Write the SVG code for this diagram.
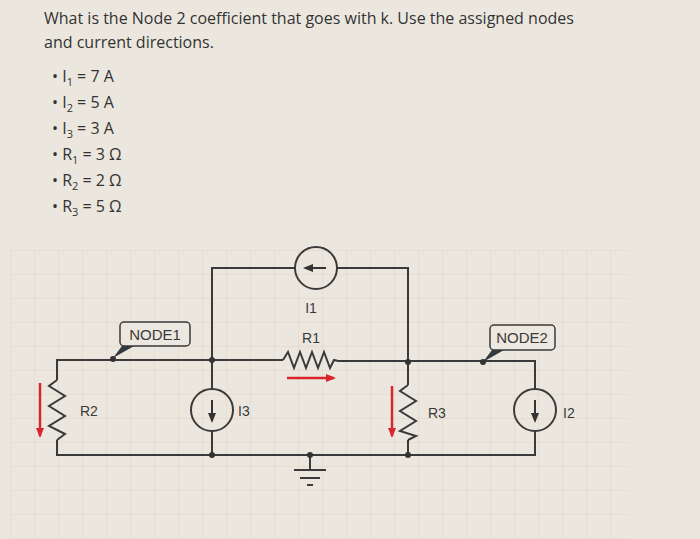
<svg xmlns="http://www.w3.org/2000/svg" width="700" height="539" viewBox="0 0 700 539">
<defs>
<pattern id="grid" width="24" height="24" patternUnits="userSpaceOnUse" x="10" y="250"><path d="M24 0H0V24" fill="none" stroke="#dcd5c8" stroke-width="1"/></pattern>
<marker id="ab" viewBox="0 0 10 10" refX="8" refY="5" markerWidth="5" markerHeight="5" orient="auto"><path d="M0 1L10 5L0 9z" fill="#333"/></marker>
<marker id="ar" viewBox="0 0 10 10" refX="8" refY="5" markerWidth="4" markerHeight="4" orient="auto"><path d="M0 1L10 5L0 9z" fill="#d8262c"/></marker>
</defs>
<style>
.w{fill:none;stroke:#3a3a3a;stroke-width:2}
.t{font-family:"Liberation Sans",Arial,sans-serif;fill:#3a3a3a}
.q{font-family:"Open Sans","Liberation Sans",sans-serif;fill:#333;font-size:16px}
.b{font-family:"Open Sans","Liberation Sans",sans-serif;fill:#333;font-size:16px}
.red{stroke:#d8262c;stroke-width:2.5;fill:none}
</style>
<rect width="700" height="539" fill="#ece7de"/>
<rect x="10" y="250" width="620" height="289" fill="url(#grid)"/>
<text class="q" x="44" y="24">What is the Node 2 coefficient that goes with k. Use the assigned nodes</text>
<text class="q" x="44" y="48">and current directions.</text>
<g class="b">
<text x="52" y="82">•   I<tspan font-size="11" dy="4">1</tspan><tspan dy="-4"> = 7 A</tspan></text>
<text x="52" y="108">•   I<tspan font-size="11" dy="4">2</tspan><tspan dy="-4"> = 5 A</tspan></text>
<text x="52" y="134">•   I<tspan font-size="11" dy="4">3</tspan><tspan dy="-4"> = 3 A</tspan></text>
<text x="52" y="160">•   R<tspan font-size="11" dy="4">1</tspan><tspan dy="-4"> = 3 Ω</tspan></text>
<text x="52" y="186">•   R<tspan font-size="11" dy="4">2</tspan><tspan dy="-4"> = 2 Ω</tspan></text>
<text x="52" y="212">•   R<tspan font-size="11" dy="4">3</tspan><tspan dy="-4"> = 5 Ω</tspan></text>
</g>
<g id="connectors">
<path class="w" d="M212 360V268H295M337 268H408V362"/>
<path class="w" d="M57 380V360H283M338 361H535V389"/>
<path class="w" d="M57 440V455H535V431"/>
<path class="w" d="M212 360V389M212 431V455"/>
<path class="w" d="M408 362V385M408 440V455"/>
<path class="w" d="M310 455V470M294 470H326M300 478H320M307 485H313"/>
</g>
<g id="I1"><circle class="w" cx="316" cy="268" r="21"/><line x1="326" y1="268" x2="305" y2="268" stroke="#333" stroke-width="2" marker-end="url(#ab)"/><text class="t" x="311" y="313" font-size="14" text-anchor="middle">I1</text></g>
<g id="R1"><path class="w" d="M283 360L288 352L294 368L300 352L306 368L312 352L318 368L324 352L330 368L334 360L338 361"/><text class="t" x="311" y="343" font-size="14" text-anchor="middle">R1</text><line class="red" x1="287" y1="378" x2="334" y2="378" marker-end="url(#ar)"/></g>
<g id="R2"><path class="w" d="M57 380L49 386L65 396L49 406L65 416L49 426L65 434L57 440"/><text class="t" x="80" y="416" font-size="14">R2</text><line class="red" x1="40" y1="383" x2="40" y2="436" marker-end="url(#ar)"/></g>
<g id="I3"><circle class="w" cx="212" cy="410" r="21"/><line x1="212" y1="400" x2="212" y2="421" stroke="#333" stroke-width="2" marker-end="url(#ab)"/><text class="t" x="238" y="416" font-size="14">I3</text></g>
<g id="R3"><path class="w" d="M408 385L400 391L416 401L400 411L416 421L400 431L416 436L408 440"/><text class="t" x="428" y="418" font-size="14">R3</text><line class="red" x1="392" y1="386" x2="392" y2="436" marker-end="url(#ar)"/></g>
<g id="I2"><circle class="w" cx="535" cy="410" r="21"/><line x1="535" y1="400" x2="535" y2="421" stroke="#333" stroke-width="2" marker-end="url(#ab)"/><text class="t" x="563" y="418" font-size="14">I2</text></g>
<g id="node1"><path d="M113 358L122 346H134z" fill="#2f3b40"/><rect x="120" y="322" width="70" height="24" rx="4" fill="#ede8df" stroke="#3a3a3a" stroke-width="1.5"/><text class="t" x="155" y="340" font-size="15" text-anchor="middle">NODE1</text><circle cx="113" cy="359" r="3" fill="#333"/></g>
<g id="node2"><path d="M483 362L492 350H504z" fill="#2f3b40"/><rect x="490" y="325" width="65" height="25" rx="4" fill="#ede8df" stroke="#3a3a3a" stroke-width="1.5"/><text class="t" x="522" y="343" font-size="15" text-anchor="middle">NODE2</text><circle cx="483" cy="362" r="3" fill="#333"/></g>
<g id="dots" fill="#333"><circle cx="212" cy="360" r="3"/><circle cx="408" cy="362" r="3"/><circle cx="212" cy="455" r="3"/><circle cx="310" cy="455" r="3"/><circle cx="408" cy="455" r="3"/></g>
</svg>
